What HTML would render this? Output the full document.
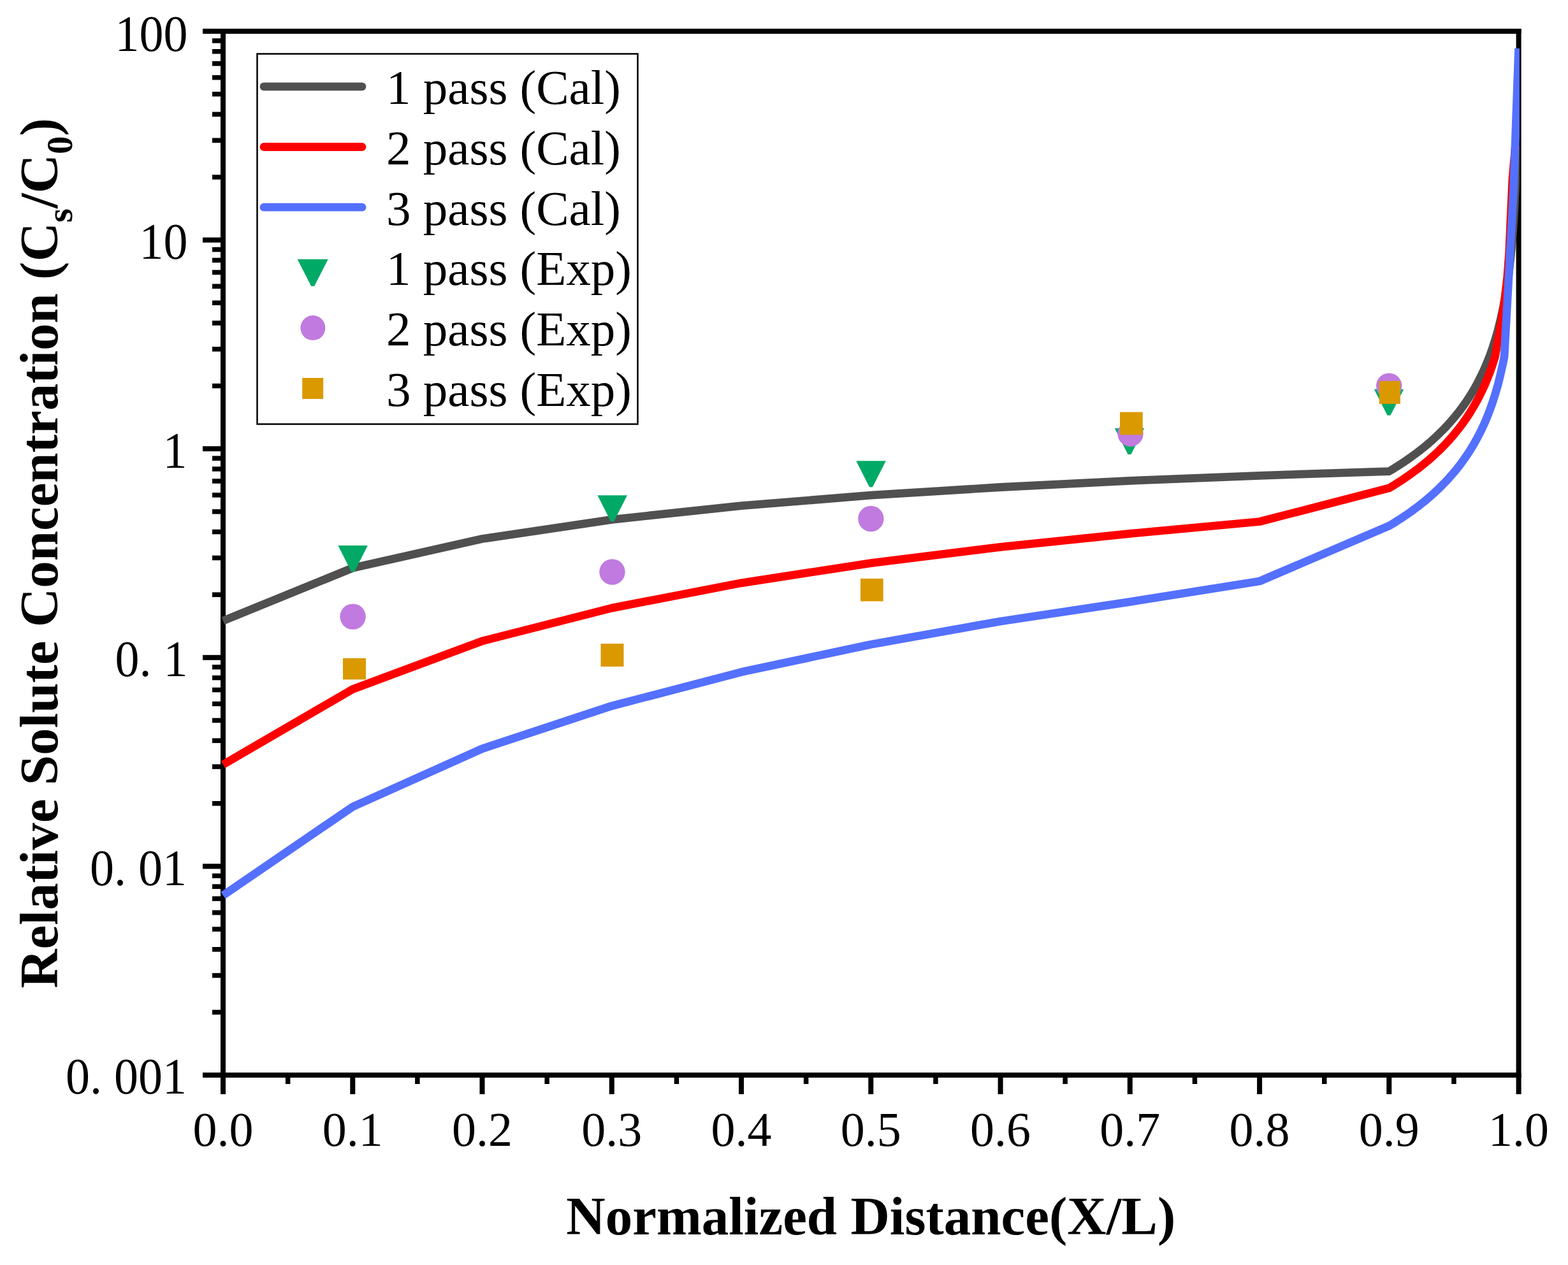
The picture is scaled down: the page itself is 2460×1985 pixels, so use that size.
<!DOCTYPE html><html><head><meta charset="utf-8"><title>Relative Solute Concentration</title><style>html,body{margin:0;padding:0;background:#fff;}svg{display:block;}text{font-family:'Liberation Serif','Times New Roman',serif;}</style></head><body>
<svg width="2460" height="1985" viewBox="0 0 2460 1985">
<rect x="0" y="0" width="2460" height="1985" fill="#fff"/>
<g fill="#000">
<rect x="346.0" y="45.0" width="2040.6" height="8"/>
<rect x="346.0" y="1683" width="2040.6" height="8"/>
<rect x="346.0" y="45.0" width="8" height="1646.0"/>
<rect x="2378.6" y="45.0" width="8" height="1646.0"/>
<rect x="318" y="1683.0" width="32.0" height="8"/>
<rect x="333" y="1584.6" width="17.0" height="7.5"/>
<rect x="333" y="1526.9" width="17.0" height="7.5"/>
<rect x="333" y="1486.0" width="17.0" height="7.5"/>
<rect x="333" y="1454.3" width="17.0" height="7.5"/>
<rect x="333" y="1428.3" width="17.0" height="7.5"/>
<rect x="333" y="1406.4" width="17.0" height="7.5"/>
<rect x="333" y="1387.4" width="17.0" height="7.5"/>
<rect x="333" y="1370.6" width="17.0" height="7.5"/>
<rect x="318" y="1355.4" width="32.0" height="8"/>
<rect x="333" y="1257.0" width="17.0" height="7.5"/>
<rect x="333" y="1199.3" width="17.0" height="7.5"/>
<rect x="333" y="1158.4" width="17.0" height="7.5"/>
<rect x="333" y="1126.7" width="17.0" height="7.5"/>
<rect x="333" y="1100.7" width="17.0" height="7.5"/>
<rect x="333" y="1078.8" width="17.0" height="7.5"/>
<rect x="333" y="1059.8" width="17.0" height="7.5"/>
<rect x="333" y="1043.0" width="17.0" height="7.5"/>
<rect x="318" y="1027.8" width="32.0" height="8"/>
<rect x="333" y="929.4" width="17.0" height="7.5"/>
<rect x="333" y="871.7" width="17.0" height="7.5"/>
<rect x="333" y="830.8" width="17.0" height="7.5"/>
<rect x="333" y="799.1" width="17.0" height="7.5"/>
<rect x="333" y="773.1" width="17.0" height="7.5"/>
<rect x="333" y="751.2" width="17.0" height="7.5"/>
<rect x="333" y="732.2" width="17.0" height="7.5"/>
<rect x="333" y="715.4" width="17.0" height="7.5"/>
<rect x="318" y="700.2" width="32.0" height="8"/>
<rect x="333" y="601.8" width="17.0" height="7.5"/>
<rect x="333" y="544.1" width="17.0" height="7.5"/>
<rect x="333" y="503.2" width="17.0" height="7.5"/>
<rect x="333" y="471.5" width="17.0" height="7.5"/>
<rect x="333" y="445.5" width="17.0" height="7.5"/>
<rect x="333" y="423.6" width="17.0" height="7.5"/>
<rect x="333" y="404.6" width="17.0" height="7.5"/>
<rect x="333" y="387.8" width="17.0" height="7.5"/>
<rect x="318" y="372.6" width="32.0" height="8"/>
<rect x="333" y="274.2" width="17.0" height="7.5"/>
<rect x="333" y="216.5" width="17.0" height="7.5"/>
<rect x="333" y="175.6" width="17.0" height="7.5"/>
<rect x="333" y="143.9" width="17.0" height="7.5"/>
<rect x="333" y="117.9" width="17.0" height="7.5"/>
<rect x="333" y="96.0" width="17.0" height="7.5"/>
<rect x="333" y="77.0" width="17.0" height="7.5"/>
<rect x="333" y="60.2" width="17.0" height="7.5"/>
<rect x="318" y="45.0" width="32.0" height="8"/>
<rect x="346.0" y="1687" width="8" height="30"/>
<rect x="447.9" y="1687" width="7.5" height="14"/>
<rect x="549.3" y="1687" width="8" height="30"/>
<rect x="651.1" y="1687" width="7.5" height="14"/>
<rect x="752.5" y="1687" width="8" height="30"/>
<rect x="854.4" y="1687" width="7.5" height="14"/>
<rect x="955.8" y="1687" width="8" height="30"/>
<rect x="1057.7" y="1687" width="7.5" height="14"/>
<rect x="1159.0" y="1687" width="8" height="30"/>
<rect x="1260.9" y="1687" width="7.5" height="14"/>
<rect x="1362.3" y="1687" width="8" height="30"/>
<rect x="1464.2" y="1687" width="7.5" height="14"/>
<rect x="1565.6" y="1687" width="8" height="30"/>
<rect x="1667.4" y="1687" width="7.5" height="14"/>
<rect x="1768.8" y="1687" width="8" height="30"/>
<rect x="1870.7" y="1687" width="7.5" height="14"/>
<rect x="1972.1" y="1687" width="8" height="30"/>
<rect x="2074.0" y="1687" width="7.5" height="14"/>
<rect x="2175.3" y="1687" width="8" height="30"/>
<rect x="2277.2" y="1687" width="7.5" height="14"/>
<rect x="2378.6" y="1687" width="8" height="30"/>
</g>
<g font-size="76" fill="#000">
<text x="350.0" y="1797.5" text-anchor="middle">0.0</text>
<text x="553.3" y="1797.5" text-anchor="middle">0.1</text>
<text x="756.5" y="1797.5" text-anchor="middle">0.2</text>
<text x="959.8" y="1797.5" text-anchor="middle">0.3</text>
<text x="1163.0" y="1797.5" text-anchor="middle">0.4</text>
<text x="1366.3" y="1797.5" text-anchor="middle">0.5</text>
<text x="1569.6" y="1797.5" text-anchor="middle">0.6</text>
<text x="1772.8" y="1797.5" text-anchor="middle">0.7</text>
<text x="1976.1" y="1797.5" text-anchor="middle">0.8</text>
<text x="2179.3" y="1797.5" text-anchor="middle">0.9</text>
<text x="2382.6" y="1797.5" text-anchor="middle">1.0</text>
<text transform="translate(294.5,79.9) scale(1,1.05)" text-anchor="end">100</text>
<text transform="translate(294.5,405.6) scale(1,1.05)" text-anchor="end">10</text>
<text transform="translate(293.5,733.7) scale(1,1.05)" text-anchor="end">1</text>
<text transform="translate(294.5,1060.9) scale(1,1.05)" text-anchor="end">0. 1</text>
<text transform="translate(293,1388.8) scale(1,1.05)" text-anchor="end">0. 01</text>
<text transform="translate(293,1716.0) scale(1,1.05)" text-anchor="end">0. 001</text>
</g>
<text x="1366.3" y="1936.5" text-anchor="middle" font-size="85" font-weight="bold">Normalized Distance(X/L)</text>
<text transform="translate(90,868) rotate(-90)" text-anchor="middle" font-size="85" font-weight="bold">Relative Solute Concentration (C<tspan font-size="57" dy="23">s</tspan><tspan dy="-23">/C</tspan><tspan font-size="57" dy="23">0</tspan><tspan dy="-23">)</tspan></text>
<defs><clipPath id="pc"><rect x="340" y="40" width="2044" height="1660"/></clipPath></defs>
<g fill="none" stroke-width="12.8" stroke-linejoin="round" stroke-linecap="butt" clip-path="url(#pc)">
<path d="M350.0,974.1 L553.3,891.3 L756.5,845.5 L959.8,815.3 L1163.0,793.6 L1366.3,777.2 L1569.6,764.5 L1772.8,754.4 L1976.1,746.3 L2179.3,739.6 L2183.4,737.2 L2187.5,734.7 L2191.5,732.1 L2195.6,729.5 L2199.7,726.9 L2203.7,724.2 L2207.8,721.4 L2211.9,718.5 L2215.9,715.6 L2220.0,712.6 L2224.1,709.6 L2228.1,706.4 L2232.2,703.2 L2236.3,699.9 L2240.3,696.5 L2244.4,693.0 L2248.4,689.4 L2252.5,685.6 L2256.6,681.8 L2260.6,677.8 L2264.7,673.7 L2268.8,669.5 L2272.8,665.1 L2276.9,660.5 L2281.0,655.8 L2285.0,650.9 L2289.1,645.7 L2293.2,640.3 L2297.2,634.7 L2301.3,628.8 L2305.4,622.6 L2309.4,616.1 L2313.5,609.2 L2317.6,601.8 L2321.6,594.0 L2325.7,585.7 L2329.8,576.7 L2333.8,567.0 L2337.9,556.5 L2341.9,545.0 L2346.0,532.2 L2350.1,518.0 L2354.1,501.8 L2358.2,483.2 L2362.3,461.2 L2362.7,458.5 L2363.2,455.7 L2363.6,452.9 L2364.1,450.1 L2364.5,447.1 L2364.9,444.1 L2365.4,441.1 L2365.8,437.9 L2366.3,434.6 L2366.7,431.3 L2367.2,427.9 L2367.6,424.3 L2368.1,420.7 L2368.5,416.9 L2368.9,413.0 L2369.4,409.0 L2369.8,404.9 L2370.3,400.6 L2370.7,396.2 L2371.2,391.6 L2371.6,386.8 L2372.1,381.8 L2372.5,376.5 L2372.9,371.1 L2373.4,365.4 L2373.8,359.4 L2374.3,353.1 L2374.7,346.5 L2375.2,339.4 L2375.6,332.0 L2376.1,324.0 L2376.5,315.5 L2376.9,306.3 L2377.4,296.4 L2377.8,285.6 L2378.3,273.8 L2378.7,260.6 L2379.2,245.9 L2379.6,229.0" stroke="#505050"/>
<path d="M350.0,1199.8 L553.3,1081.5 L756.5,1005.9 L959.8,954.1 L1163.0,914.8 L1366.3,883.6 L1569.6,858.3 L1772.8,837.3 L1976.1,818.5 L2179.3,765.9 L2183.4,763.5 L2187.5,761.0 L2191.5,758.4 L2195.6,755.8 L2199.7,753.2 L2203.7,750.4 L2207.8,747.7 L2211.9,744.8 L2215.9,741.9 L2220.0,738.9 L2224.1,735.9 L2228.1,732.7 L2232.2,729.5 L2236.3,726.2 L2240.3,722.8 L2244.4,719.3 L2248.4,715.7 L2252.5,711.9 L2256.6,708.1 L2260.6,704.1 L2264.7,700.0 L2268.8,695.8 L2272.8,691.4 L2276.9,686.8 L2281.0,682.1 L2285.0,677.1 L2289.1,672.0 L2293.2,666.6 L2297.2,661.0 L2301.3,655.1 L2305.4,648.9 L2309.4,642.3 L2313.5,635.4 L2317.6,628.1 L2321.6,620.3 L2325.7,612.0 L2329.8,603.0 L2333.8,593.3 L2337.9,582.8 L2341.9,571.3 L2345.5,560.0 L2354.5,509.0 L2360.5,472.0 L2364.8,435.0 L2367.6,398.0 L2370.6,331.0 L2373.0,280.0 L2377.5,229.0" stroke="#FF0000"/>
<path d="M350.0,1405.0 L553.3,1266.0 L756.5,1174.9 L959.8,1107.7 L1163.0,1054.6 L1366.3,1011.2 L1569.6,975.0 L1772.8,944.3 L1976.1,912.0 L2179.3,825.2 L2183.4,822.8 L2187.5,820.3 L2191.5,817.7 L2195.6,815.1 L2199.7,812.5 L2203.7,809.7 L2207.8,807.0 L2211.9,804.1 L2215.9,801.2 L2220.0,798.2 L2224.1,795.2 L2228.1,792.0 L2232.2,788.8 L2236.3,785.5 L2240.3,782.1 L2244.4,778.6 L2248.4,775.0 L2252.5,771.2 L2256.6,767.4 L2260.6,763.4 L2264.7,759.3 L2268.8,755.1 L2272.8,750.7 L2276.9,746.1 L2281.0,741.4 L2285.0,736.4 L2289.1,731.3 L2293.2,725.9 L2297.2,720.3 L2301.3,714.4 L2305.4,708.2 L2309.4,701.6 L2313.5,694.7 L2317.6,687.4 L2321.6,679.6 L2325.7,671.3 L2329.8,662.3 L2333.8,652.6 L2337.9,642.1 L2341.9,630.6 L2346.0,617.8 L2350.1,603.6 L2354.1,587.4 L2358.2,568.8 L2360.0,560.0 L2374.5,300.0 L2382.6,76.0" stroke="#5470FF"/>
</g>
<polygon points="530.4,855.9 576.9,855.9 556.1,896.9 551.1,896.9" fill="#00AA66"/>
<polygon points="937.5,777.2 984.0,777.2 963.2,818.2 958.2,818.2" fill="#00AA66"/>
<polygon points="1343.2,723.3 1389.8,723.3 1369.0,764.3 1364.0,764.3" fill="#00AA66"/>
<polygon points="1748.8,672.0 1795.2,672.0 1774.5,713.0 1769.5,713.0" fill="#00AA66"/>
<polygon points="2155.8,610.8 2202.2,610.8 2181.5,651.8 2176.5,651.8" fill="#00AA66"/>
<circle cx="553.6" cy="967.6" r="20.2" fill="#C07AE0"/>
<circle cx="960.5" cy="897.5" r="20.2" fill="#C07AE0"/>
<circle cx="1366.4" cy="814.0" r="20.2" fill="#C07AE0"/>
<circle cx="1773.5" cy="680.5" r="20.2" fill="#C07AE0"/>
<circle cx="2179.2" cy="605.6" r="20.2" fill="#C07AE0"/>
<rect x="538.0" y="1032.8" width="36" height="33.5" fill="#DB9900"/>
<rect x="942.5" y="1010.0" width="36" height="36" fill="#DB9900"/>
<rect x="1350.0" y="907.9" width="35.7" height="35.6" fill="#DB9900"/>
<rect x="1757.0" y="646.6" width="35.7" height="35.7" fill="#DB9900"/>
<rect x="2163.8" y="597.9" width="33.1" height="35.9" fill="#DB9900"/>
<rect x="403.5" y="84.5" width="597" height="581" fill="none" stroke="#000" stroke-width="2.5"/>
<g stroke-width="12.8" stroke-linecap="round">
<line x1="414" y1="135.8" x2="568" y2="135.8" stroke="#505050"/>
<line x1="414" y1="230.5" x2="568" y2="230.5" stroke="#FF0000"/>
<line x1="414" y1="325.2" x2="568" y2="325.2" stroke="#5470FF"/>
</g>
<polygon points="466.6,406.7 514.8,406.7 493.2,448.9 488.2,448.9" fill="#00AA66"/>
<circle cx="490.9" cy="514.6" r="19.5" fill="#C07AE0"/>
<rect x="474.2" y="593.0" width="33" height="33" fill="#DB9900"/>
<g font-size="77" fill="#000">
<text x="606" y="163.3">1 pass (Cal)</text>
<text x="606" y="258.0">2 pass (Cal)</text>
<text x="606" y="352.7">3 pass (Cal)</text>
<text x="606" y="447.4">1 pass (Exp)</text>
<text x="606" y="542.1">2 pass (Exp)</text>
<text x="606" y="636.8">3 pass (Exp)</text>
</g>
</svg></body></html>
